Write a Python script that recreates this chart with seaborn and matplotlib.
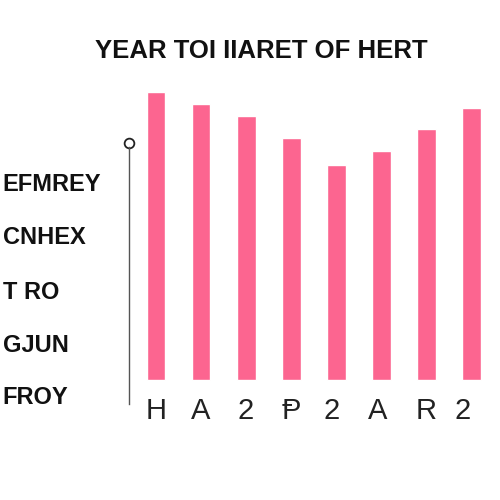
import matplotlib
matplotlib.use('Agg')
import matplotlib.pyplot as plt
import seaborn as sns
import pandas as pd

# data
categories = ['H', 'A', '2', 'Ᵽ', '2 ', 'A ', 'R', '2  ']
values = [288, 276, 264, 242, 215, 229, 251, 272]
row_labels = ['EFMREY', 'CNHEX', 'T RO', 'GJUN', 'FROY']
row_pos = [198, 145, 90, 37, -15]
title = 'YEAR TOI IIARET OF HERT'

df = pd.DataFrame({'cat': categories, 'val': values})

sns.set_theme(style='white')
plt.rcParams['font.family'] = ['Liberation Sans', 'DejaVu Sans']

fig = plt.figure(figsize=(5, 5), dpi=100)
ax = fig.add_axes([129 / 500, 100 / 500, 366 / 500, 320 / 500])

sns.barplot(data=df, x='cat', y='val', color='#FC6590', saturation=1,
            width=0.42, ax=ax)

ax.set_xlim(-0.6, 7.53)
ax.set_ylim(-20, 300)
ax.set_xlabel('')
ax.set_ylabel('')

for s in ['top', 'right', 'bottom']:
    ax.spines[s].set_visible(False)
ax.spines['left'].set_color('#555555')
ax.spines['left'].set_linewidth(1)
ax.spines['left'].set_bounds(-24, 233)
ax.plot([0], [237], marker='o', markersize=7, markerfacecolor='white',
        markeredgecolor='#222222', markeredgewidth=1.3,
        transform=ax.get_yaxis_transform(), clip_on=False)

ax.tick_params(axis='x', length=0, pad=-2, labelsize=21, labelcolor='#222222')
ax.set_yticks(row_pos, row_labels)
ax.tick_params(axis='y', length=0, pad=91, labelsize=17, labelcolor='#111111')
for lab in ax.get_yticklabels():
    lab.set_ha('left')
    lab.set_fontweight('bold')

fig.text(0.522, 0.898, title, ha='center', va='center', fontsize=18.5,
         fontweight='bold', color='#111111')

fig.savefig('out.png', dpi=100, facecolor='white')
